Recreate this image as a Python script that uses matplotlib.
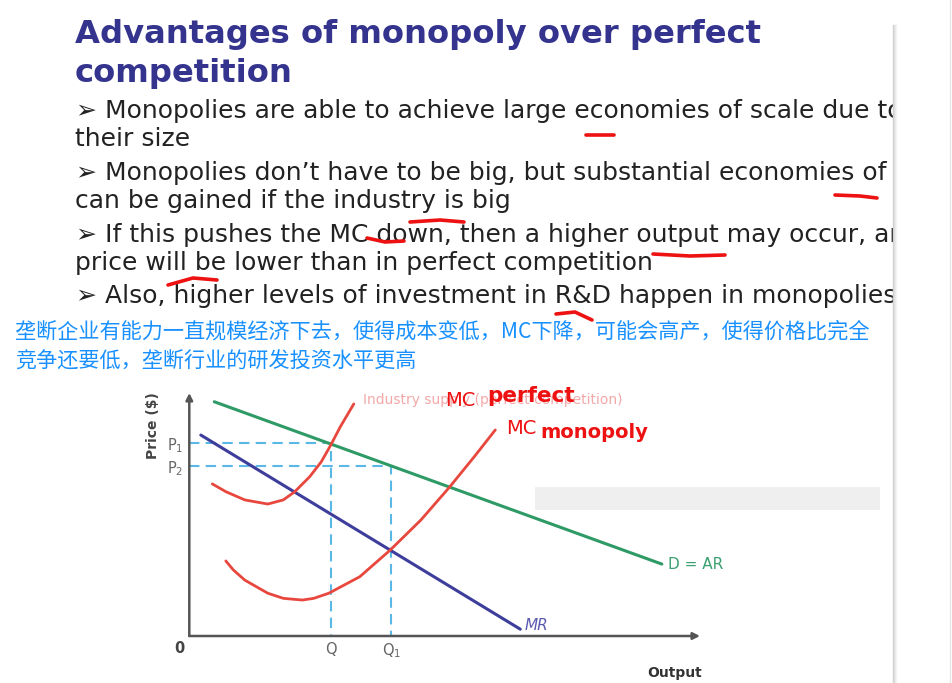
import matplotlib
matplotlib.use('Agg')
import matplotlib.pyplot as plt
from matplotlib.lines import Line2D
from matplotlib.patches import Rectangle

W, H = 952, 683

# slide text
title_lines = ['Advantages of monopoly over perfect', 'competition']
bullets = [
    ('➢ Monopolies are able to achieve large economies of scale due to', 'their size'),
    ('➢ Monopolies don\u2019t have to be big, but substantial economies of scale', 'can be gained if the industry is big'),
    ('➢ If this pushes the MC down, then a higher output may occur, and', 'price will be lower than in perfect competition'),
    ('➢ Also, higher levels of investment in R&D happen in monopolies', None),
]
note_lines = ['垄断企业有能力一直规模经济下去，使得成本变低，MC下降，可能会高产，使得价格比完全',
              '竞争还要低，垄断行业的研发投资水平更高']

# chart data (output, price)
d_x = [5.0, 94.5]
d_y = [96.4, 29.6]
mr_x = [2.3, 66.2]
mr_y = [82.7, 2.8]
mc_pc_x = [4.6, 7.3, 11.1, 15.7, 18.8, 21.1, 24.1, 26.4, 28.3, 30.2, 32.9]
mc_pc_y = [62.6, 59.4, 56.0, 54.3, 56.0, 59.4, 65.6, 71.7, 78.6, 86.1, 95.5]
mc_m_x = [7.3, 8.8, 11.1, 15.7, 18.8, 22.6, 24.9, 27.9, 34.1, 40.2, 46.3, 52.1, 57.0, 61.2]
mc_m_y = [30.9, 27.2, 23.0, 17.6, 15.5, 14.8, 15.5, 17.6, 24.4, 35.4, 47.7, 61.4, 73.8, 84.8]
q_vals = [28.3, 40.4]
q_labels = ['Q', 'Q$_1$']
p_vals = [79.3, 70.0]
p_labels = ['P$_1$', 'P$_2$']

# red pen strokes on the slide, pixel coords
pen_strokes = [
    [(586, 135), (614, 135)],
    [(835, 195), (860, 196), (877, 198)],
    [(410, 222), (440, 220), (464, 222)],
    [(367, 238), (385, 242), (404, 241)],
    [(653, 254), (690, 256), (725, 255)],
    [(168, 285), (193, 278), (217, 280)],
    [(556, 314), (575, 312), (592, 320)],
]


def fx(px):
    return px / W


def fy(py):
    return 1 - py / H


fig = plt.figure(figsize=(9.52, 6.83), dpi=100)
fig.patch.set_facecolor('white')

fig.text(fx(75), fy(43), title_lines[0], fontsize=23.2, weight='bold',
         color='#34348f', va='baseline')
fig.text(fx(75), fy(82), title_lines[1], fontsize=23.2, weight='bold',
         color='#34348f', va='baseline')

bl = [118, 180, 242, 303]
for (first, second), y in zip(bullets, bl):
    fig.text(fx(76), fy(y), first, fontsize=18, color='#222222', va='baseline')
    if second:
        fig.text(fx(75), fy(y + 28), second, fontsize=18, color='#222222',
                 va='baseline')

for s in pen_strokes:
    xs, ys = zip(*s)
    fig.add_artist(Line2D([fx(v) for v in xs], [fy(v) for v in ys],
                          color='#ee1111', lw=2.6, solid_capstyle='round',
                          transform=fig.transFigure, zorder=5))

fig.text(fx(15), fy(332), note_lines[0], fontsize=15.2, color='#1890ff',
         va='center', family=['Noto Sans CJK SC', 'DejaVu Sans'])
fig.text(fx(15), fy(362), note_lines[1], fontsize=15.2, color='#1890ff',
         va='center', family=['Noto Sans CJK SC', 'DejaVu Sans'])

# chart
x0, x1 = 189.3, 700
y0, y1 = 636, 393
ax = fig.add_axes([fx(x0), fy(y0), (x1 - x0) / W, (y0 - y1) / H])
ax.set_xlim(0, (x1 - x0) / 5)
ax.set_ylim(0, 100)
for sp in ax.spines.values():
    sp.set_visible(False)
ax.patch.set_alpha(0)

axc = '#555555'
ax.annotate('', xy=(ax.get_xlim()[1], 0), xytext=(0, 0),
            arrowprops=dict(arrowstyle='-|>', color=axc, lw=1.8,
                            shrinkA=0, shrinkB=0, mutation_scale=10))
ax.annotate('', xy=(0, 100), xytext=(0, 0),
            arrowprops=dict(arrowstyle='-|>', color=axc, lw=1.8,
                            shrinkA=0, shrinkB=0, mutation_scale=10))

dash = dict(color='#5ab8e6', lw=1.5, ls=(0, (5, 3)))
for q, p in zip(q_vals, p_vals):
    ax.plot([0, q, q], [p, p, 0], **dash)

ax.plot(d_x, d_y, color='#2e9a66', lw=2.2, solid_capstyle='round')
ax.plot(mr_x, mr_y, color='#3d3d9c', lw=2.2, solid_capstyle='round')
ax.plot(mc_pc_x, mc_pc_y, color='#e8473d', lw=2.0, solid_capstyle='round',
        solid_joinstyle='round')
ax.plot(mc_m_x, mc_m_y, color='#e8473d', lw=2.0, solid_capstyle='round',
        solid_joinstyle='round')

ax.set_xticks(q_vals)
ax.set_xticklabels(q_labels, fontsize=10.5, color='#666666')
ax.set_yticks(p_vals)
ax.set_yticklabels(p_labels, fontsize=10.5, color='#666666')
ax.tick_params(length=0, pad=4)
ax.tick_params(axis='x', pad=4)

ax.text(-2.0, -2.2, '0', fontsize=10.5, weight='bold', color='#444444',
        ha='center', va='top')
ax.set_ylabel('Price ($)', fontsize=10, weight='bold', color='#444444')
ax.yaxis.set_label_coords(-0.058, 0.868)
ax.text(d_x[1] + 1.2, d_y[1], 'D = AR', fontsize=11, color='#3aa070',
        va='center')
ax.text(mr_x[1] + 0.8, mr_y[1] + 1.5, 'MR', fontsize=11, color='#5a5ab0',
        va='center', style='italic')

fig.text(fx(675), fy(673), 'Output', fontsize=10, weight='bold',
         color='#333333', ha='center', va='center')

fig.text(fx(363), fy(400), 'Industry supply (perfect competition)', fontsize=10,
         color='#f2a8a8', va='center')
fig.text(fx(445), fy(400), 'MC', fontsize=14, color='#ee1111', va='center')
fig.text(fx(487), fy(396), 'perfect', fontsize=15.5, color='#ee1111',
         va='center', weight='bold')
fig.text(fx(506), fy(428), 'MC', fontsize=14, color='#ee1111', va='center')
fig.text(fx(540), fy(432), 'monopoly', fontsize=14, color='#ee1111',
         va='center', weight='bold')

# blurred box over the chart
fig.add_artist(Rectangle((fx(535), fy(510)), (880 - 535) / W, 23 / H,
                         transform=fig.transFigure, color='#efefef',
                         lw=0, zorder=4))

# edge of the slide on the right
fig.add_artist(Rectangle((fx(893), 0), (W - 893) / W, 1,
                         transform=fig.transFigure, color='white', lw=0,
                         zorder=8))
for off, c in zip([0, 1, 2, 3], ['#cfcfcf', '#dddddd', '#e8e8e8', '#f3f3f3']):
    fig.add_artist(Line2D([fx(893 + off)] * 2, [0, fy(25)], color=c, lw=1,
                          transform=fig.transFigure, zorder=9))
fig.add_artist(Line2D([fx(950)] * 2, [0, 1], color='#e6e6e6', lw=1,
                      transform=fig.transFigure, zorder=9))

fig.savefig('out.png', dpi=100)
